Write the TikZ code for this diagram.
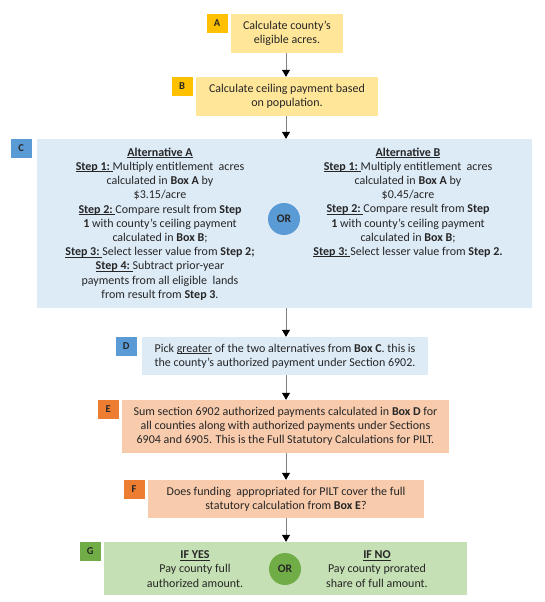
\documentclass[tikz,border=0pt]{standalone}
\usepackage{fontspec}
\setmainfont{Carlito}
\usetikzlibrary{arrows.meta}
\definecolor{ylab}{HTML}{FFC000}
\definecolor{yfill}{HTML}{FFE699}
\definecolor{blab}{HTML}{5B9BD5}
\definecolor{bfill}{HTML}{DDEBF7}
\definecolor{olab}{HTML}{ED7D31}
\definecolor{ofill}{HTML}{F8CBAD}
\definecolor{glab}{HTML}{70AD47}
\definecolor{gfill}{HTML}{C5E0B4}
\definecolor{txt}{HTML}{262626}
\newcommand{\myul}[1]{\setbox0\hbox{#1}\rlap{\rule[-1.6pt]{\wd0}{0.6pt}}\box0\relax}
\newcommand{\ulb}[1]{\myul{\textbf{#1}}}
\newcommand{\stp}[1]{\myul{\textbf{#1}\ }}
\begin{document}
\begin{tikzpicture}[x=1pt,y=-1pt,
  box/.style={rectangle, inner sep=0pt, align=center, text=txt,
    font=\fontsize{12}{14.2}\selectfont},
  txtnode/.style={inner sep=0pt, align=center, text=txt,
    font=\fontsize{12}{14.2}\selectfont},
  lab/.style={rectangle, inner sep=0pt, minimum width=21pt, minimum height=19pt,
    text=txt, font=\fontsize{10.5}{11}\selectfont\bfseries, anchor=north east},
  orc/.style={circle, inner sep=0pt, minimum size=32pt, text=txt,
    font=\fontsize{11.5}{12}\selectfont\bfseries},
  conn/.style={draw=gray, line width=1pt, -{Triangle[width=8pt,length=7pt,color=black]}}
]
\useasboundingbox (0,0) rectangle (545,602);

% main boxes
\node[box, fill=yfill, minimum width=112pt, minimum height=39pt] (A) at (287,33.5)
  {Calculate county’s\\eligible acres.};
\node[box, fill=yfill, minimum width=182pt, minimum height=39pt] (B) at (287,96.5)
  {Calculate ceiling payment based\\on population.};
\node[box, fill=bfill, minimum width=495pt, minimum height=169pt] (C) at (284.5,223.5) {};
\node[box, fill=bfill, minimum width=286pt, minimum height=38pt] (D) at (285,356)
  {Pick \myul{greater} of the two alternatives from \textbf{Box C}. this is\\
   the county’s authorized payment under Section 6902.};
\node[box, fill=ofill, minimum width=327pt, minimum height=53pt] (E) at (285.5,426.5)
  {Sum section 6902 authorized payments calculated in \textbf{Box D} for\\
   all counties along with authorized payments under Sections\\
   6904 and 6905. This is the Full Statutory Calculations for PILT.};
\node[box, fill=ofill, minimum width=276pt, minimum height=38pt] (F) at (286,499)
  {Does funding\ \ appropriated for PILT cover the full\\
   statutory calculation\ from \textbf{Box E}?};
\node[box, fill=gfill, minimum width=363pt, minimum height=53pt] (G) at (285.5,568.5) {};

% letter tags
\node[lab, fill=ylab] (LA) at ([xshift=-3pt]A.north west) {A};
\node[lab, fill=ylab] (LB) at ([xshift=-3pt]B.north west) {B};
\node[lab, fill=blab] (LC) at ([xshift=-5pt]C.north west) {C};
\node[lab, fill=blab] (LD) at ([xshift=-5pt]D.north west) {D};
\node[lab, fill=olab] (LE) at ([xshift=-3pt]E.north west) {E};
\node[lab, fill=olab] (LF) at ([xshift=-3pt]F.north west) {F};
\node[lab, fill=glab] (LG) at ([xshift=-3pt]G.north west) {G};

% contents of box C
\node[txtnode] (altA) at (160,224)
  {\ulb{Alternative A}\\
   \stp{Step 1:}Multiply entitlement\ \ acres\\
   calculated in \textbf{Box A} by\\
   \$3.15/acre\\
   \stp{Step 2:}Compare result from \textbf{Step}\\
   \textbf{1} with county’s ceiling payment\\
   calculated in \textbf{Box B};\\
   \stp{Step 3:}Select lesser value from \textbf{Step 2;}\\
   \stp{Step 4:}Subtract prior-year\\
   payments from all eligible\ \ lands\\
   from result from \textbf{Step 3}.};
\node[txtnode] (altB) at (408,202.5)
  {\ulb{Alternative B}\\
   \stp{Step 1:}Multiply entitlement\ \ acres\\
   calculated in \textbf{Box A} by\\
   \$0.45/acre\\
   \stp{Step 2:}Compare result from \textbf{Step}\\
   \textbf{1} with county’s ceiling payment\\
   calculated in \textbf{Box B};\\
   \stp{Step 3:}Select lesser value from \textbf{Step 2.}};
\node[orc, fill=blab] (orC) at (284,219) {OR};

% contents of box G
\node[txtnode] (yes) at (195,569)
  {\ulb{IF YES}\\Pay county full\\authorized amount.};
\node[txtnode] (no) at (377,569)
  {\ulb{IF NO}\\Pay county prorated\\share of full amount.};
\node[orc, fill=glab] (orG) at (285,569) {OR};

% connectors
\draw[conn] (A.south -| 286,0) -- (B.north -| 286,0);
\draw[conn] (B.south -| 286,0) -- (C.north -| 286,0);
\draw[conn] (C.south -| 286,0) -- (D.north -| 286,0);
\draw[conn] (D.south -| 286,0) -- (E.north -| 286,0);
\draw[conn] (E.south -| 286,0) -- (F.north -| 286,0);
\draw[conn] (F.south -| 286,0) -- (G.north -| 286,0);
\end{tikzpicture}
\end{document}
